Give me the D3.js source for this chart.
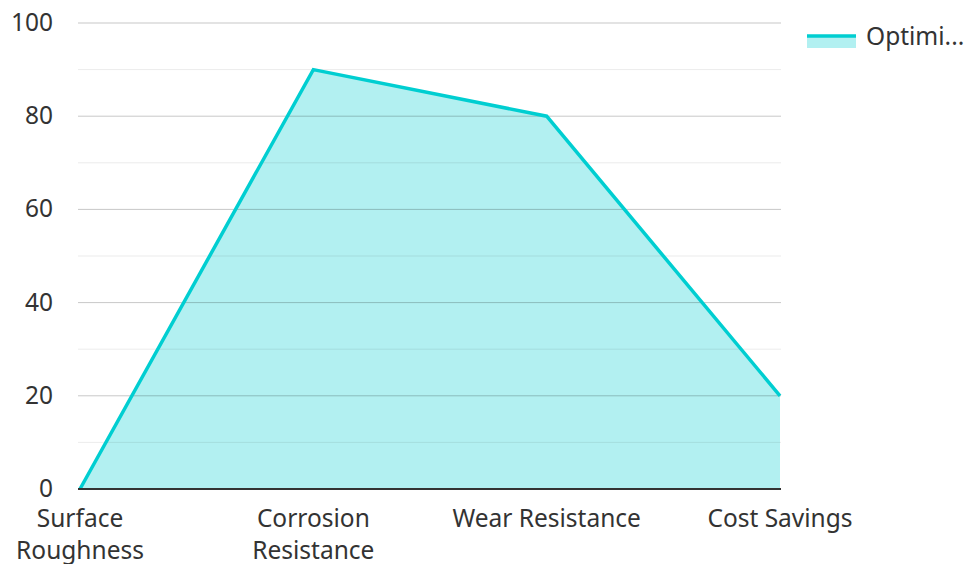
<!DOCTYPE html>
<html>
<head>
<meta charset="utf-8">
<script src="https://cdn.jsdelivr.net/npm/d3@7"></script>
<style>
  body { margin: 0; background: #fff; }
  text { font-family: "Noto Sans", "Open Sans", sans-serif; fill: #333; }
</style>
</head>
<body>
<svg id="chart" width="967" height="564"></svg>
<script>
const categories = ["Surface Roughness", "Corrosion Resistance", "Wear Resistance", "Cost Savings"];
const values = [0, 90, 80, 20];
const seriesName = "Optimi...";
const yTicks = [0, 20, 40, 60, 80, 100];
const yMinorTicks = [10, 30, 50, 70, 90];

const svg = d3.select("#chart");
const plotLeft = 78, plotRight = 781, plotTop = 23, plotBottom = 489;

const x = d3.scalePoint().domain(categories).range([80, 780]).padding(0);
const y = d3.scaleLinear().domain([0, 100]).range([plotBottom, plotTop]);

// area + line
const area = d3.area()
  .x((d, i) => x(categories[i]))
  .y0(y(0))
  .y1(d => y(d));
const line = d3.line()
  .x((d, i) => x(categories[i]))
  .y(d => y(d));

svg.append("path")
  .attr("d", area(values))
  .attr("fill", "#00ced1")
  .attr("fill-opacity", 0.3);

// grid lines (drawn over the fill)
svg.append("g").selectAll("line")
  .data(yMinorTicks)
  .join("line")
  .attr("x1", plotLeft).attr("x2", plotRight)
  .attr("y1", d => y(d)).attr("y2", d => y(d))
  .attr("stroke", "#000").attr("stroke-opacity", 0.08).attr("stroke-width", 1);

svg.append("g").selectAll("line")
  .data(yTicks.filter(d => d > 0))
  .join("line")
  .attr("x1", plotLeft).attr("x2", plotRight)
  .attr("y1", d => y(d)).attr("y2", d => y(d))
  .attr("stroke", "#000").attr("stroke-opacity", 0.22).attr("stroke-width", 1);

svg.append("path")
  .attr("d", line(values))
  .attr("fill", "none")
  .attr("stroke", "#00ced1")
  .attr("stroke-width", 3.5)
  .attr("stroke-linejoin", "miter");

// x axis line
svg.append("line")
  .attr("x1", plotLeft).attr("x2", plotRight)
  .attr("y1", plotBottom).attr("y2", plotBottom)
  .attr("stroke", "#333").attr("stroke-width", 2);

// y labels
svg.append("g").selectAll("text")
  .data(yTicks)
  .join("text")
  .attr("x", 53)
  .attr("y", d => y(d) + 8)
  .attr("text-anchor", "end")
  .attr("font-size", 24.5)
  .text(d => d);

// x labels, wrapped at the space for long names
const wrap = { "Surface Roughness": ["Surface", "Roughness"], "Corrosion Resistance": ["Corrosion", "Resistance"] };
const xl = svg.append("g").selectAll("text")
  .data(categories)
  .join("text")
  .attr("text-anchor", "middle")
  .attr("font-size", 24.5)
  .attr("y", 527);
xl.each(function (d) {
  const lines = wrap[d] || [d];
  const t = d3.select(this);
  lines.forEach((s, i) => {
    t.append("tspan").attr("x", x(d)).attr("dy", i === 0 ? 0 : 32).text(s);
  });
});

// legend
const lg = svg.append("g");
lg.append("rect")
  .attr("x", 807).attr("y", 35).attr("width", 49).attr("height", 13)
  .attr("fill", "#00ced1").attr("fill-opacity", 0.3);
lg.append("line")
  .attr("x1", 807).attr("x2", 856).attr("y1", 36).attr("y2", 36)
  .attr("stroke", "#00ced1").attr("stroke-width", 3.5);
lg.append("text")
  .attr("x", 866).attr("y", 45)
  .attr("font-size", 24.5)
  .text(seriesName);
</script>
</body>
</html>
